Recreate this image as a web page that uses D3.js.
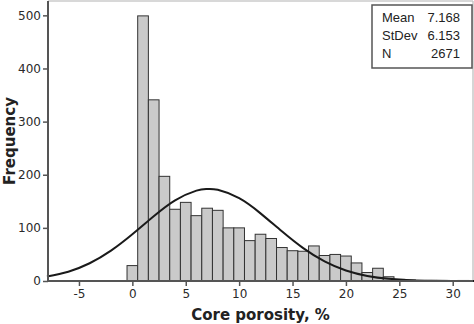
<!DOCTYPE html>
<html>
<head>
<meta charset="utf-8">
<script src="https://cdn.jsdelivr.net/npm/d3@7"></script>
<style>
  body { margin: 0; background: #fff; }
  svg { display: block; }
</style>
</head>
<body>
<div id="chart"></div>
<script>
// histogram bins (centred on integers, width 1)
const binCenters = [0, 1, 2, 3, 4, 5, 6, 7, 8, 9, 10, 11, 12, 13, 14, 15, 16, 17, 18, 19, 20, 21, 22, 23, 24, 25, 26, 27, 28, 29, 30, 31]
const binCounts = [29, 499, 341, 197, 135, 148, 123, 137, 133, 100, 100, 76, 88, 80, 63, 57, 56, 66, 48, 50, 47, 34, 16, 24, 8, 3, 2, 1, 1, 1, 0, 1]

// fitted normal curve
const curveX = [-8, -6, -4, -2, 0, 2, 4, 6, 7, 8, 10, 12, 14, 16, 18, 20, 22, 24, 26, 28, 30, 32]
const curveY = [8.3, 17.5, 33.4, 57.1, 87.9, 121.7, 151.7, 170.1, 173.2, 171.6, 155.8, 127.3, 93.5, 61.8, 36.8, 19.7, 9.5, 4.1, 1.6, 0.6, 0.1, 0.03]

// tick labels
const xTicks = [-5, 0, 5, 10, 15, 20, 25, 30]
const yTicks = [0, 100, 200, 300, 400, 500]

// summary box
const statLabels = ["Mean", "StDev", "N"]
const statValues = ["7.168", "6.153", "2671"]

const W = 474, H = 324
const plotL = 48, plotR = 473, plotT = 1, plotB = 281

const svg = d3.select("#chart").append("svg")
    .attr("width", W)
    .attr("height", H)

const x = d3.scaleLinear().domain([-7.9, 31.9]).range([plotL, plotR])
const y = d3.scaleLinear().domain([0, 527]).range([plotB, plotT])

// frame (top / right light border)
svg.append("line")
    .attr("x1", plotL).attr("x2", plotR)
    .attr("y1", plotT).attr("y2", plotT)
    .attr("stroke", "#d8d8d8").attr("stroke-width", 2)
svg.append("line")
    .attr("x1", plotR).attr("x2", plotR)
    .attr("y1", plotT).attr("y2", plotB)
    .attr("stroke", "#c8c8c8").attr("stroke-width", 1.5)

// bars
svg.selectAll("rect.bar")
    .data(binCenters.map((c, i) => ({ c: c, n: binCounts[i] })).filter(d => d.n > 0))
    .join("rect")
    .attr("class", "bar")
    .attr("x", d => x(d.c - 0.5))
    .attr("y", d => y(d.n))
    .attr("width", d => x(d.c + 0.5) - x(d.c - 0.5))
    .attr("height", d => y(0) - y(d.n))
    .attr("fill", "#cacaca")
    .attr("stroke", "#333")
    .attr("stroke-width", 1)

// normal curve
const line = d3.line()
    .x((d, i) => x(curveX[i]))
    .y(d => y(d))
    .curve(d3.curveNatural)

svg.append("path")
    .datum(curveY)
    .attr("d", line)
    .attr("fill", "none")
    .attr("stroke", "#1a1a1a")
    .attr("stroke-width", 2)

// axes (plain hyphen for negatives, like the original)
const xAxis = svg.append("g")
    .attr("transform", `translate(0,${plotB})`)
    .call(d3.axisBottom(x).tickValues(xTicks).tickFormat(d => String(d))
        .tickSize(5).tickPadding(3).tickSizeOuter(0))
const yAxis = svg.append("g")
    .attr("transform", `translate(${plotL},0)`)
    .call(d3.axisLeft(y).tickValues(yTicks).tickFormat(d => String(d))
        .tickSize(5).tickPadding(2).tickSizeOuter(0))

// clip axis domain lines to the plot range
xAxis.select(".domain").attr("d", `M${plotL},0H${plotR}`)
yAxis.select(".domain").attr("d", `M0,${plotB}V${plotT}`)

svg.selectAll(".domain").attr("stroke", "#555").attr("stroke-width", 2)
svg.selectAll(".tick line").attr("stroke", "#555").attr("stroke-width", 1.5)
svg.selectAll(".tick text")
    .attr("fill", "#2a2a2a")
    .style("font-family", "DejaVu Sans, Verdana, sans-serif")
    .style("font-size", "12px")

// axis titles
svg.append("text")
    .attr("x", (plotL + plotR) / 2)
    .attr("y", 320)
    .attr("text-anchor", "middle")
    .style("font-family", "DejaVu Sans, Verdana, sans-serif")
    .style("font-size", "15px")
    .style("font-weight", "bold")
    .attr("fill", "#222")
    .text("Core porosity, %")

svg.append("text")
    .attr("transform", `translate(15,${(plotT + plotB) / 2}) rotate(-90)`)
    .attr("text-anchor", "middle")
    .style("font-family", "DejaVu Sans, Verdana, sans-serif")
    .style("font-size", "15px")
    .style("font-weight", "bold")
    .attr("fill", "#222")
    .text("Frequency")

// stats box
const box = svg.append("g")
box.append("rect")
    .attr("x", 372).attr("y", 5)
    .attr("width", 100).attr("height", 63)
    .attr("fill", "#fff")
    .attr("stroke", "#555")
    .attr("stroke-width", 1.5)

statLabels.forEach((s, i) => {
    box.append("text")
        .attr("x", 382).attr("y", 22 + i * 18)
        .style("font-family", "Liberation Sans, Arial, sans-serif")
        .style("font-size", "13px")
        .attr("fill", "#222")
        .text(s)
    box.append("text")
        .attr("x", 460).attr("y", 22 + i * 18)
        .attr("text-anchor", "end")
        .style("font-family", "Liberation Sans, Arial, sans-serif")
        .style("font-size", "13px")
        .attr("fill", "#222")
        .text(statValues[i])
})
</script>
</body>
</html>
